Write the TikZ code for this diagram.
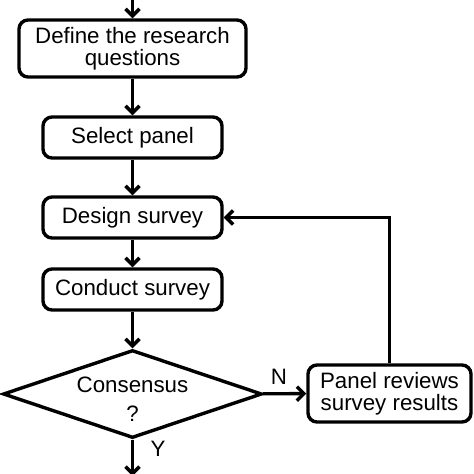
\documentclass[tikz,border=0pt]{standalone}
\usepackage{fontspec}
\setmainfont{Liberation Sans}
\usetikzlibrary{shapes.geometric,arrows.meta}
\begin{document}
\begin{tikzpicture}[x=1pt,y=-1pt,
  every node/.style={font=\fontsize{22.3}{22.5}\selectfont},
  procbox/.style={draw, line width=3.4pt, rounded corners=9pt, align=center, inner sep=0pt},
  decbox/.style={draw, line width=3.4pt, diamond, inner sep=0pt, minimum width=259pt, minimum height=88pt},
  flow/.style={line width=3.4pt, -{Straight Barb[length=7pt,width=14pt,line width=3.4pt]}},
  lbl/.style={inner sep=0pt}]
\useasboundingbox (0,0) rectangle (474,474);
\coordinate (top) at (132.5,-5);
\node[procbox, minimum width=227pt, minimum height=57pt] (def) at (132.5,48.5) {Define the research\\questions};
\node[procbox, minimum width=179pt, minimum height=41pt] (sel) at (132.5,137.5) {Select panel};
\node[procbox, minimum width=179pt, minimum height=41pt] (des) at (132.5,217.5) {Design survey};
\node[procbox, minimum width=179pt, minimum height=41pt] (con) at (132.5,289.5) {Conduct survey};
\node[decbox] (dec) at (132.5,394) {};
\node[lbl] (cons) at (132.5,385) {Consensus};
\node[lbl] (q) at (132.5,414) {?};
\node[procbox, minimum width=163pt, minimum height=57pt] (pan) at (389.5,393.5) {Panel reviews\\survey results};
\node[lbl] (nl) at (279,377) {N};
\node[lbl] (yl) at (158,449) {Y};
\coordinate (bot) at (132.5,476);
\coordinate (corner) at (389.5,217.5);
\draw[flow] (top) -- (def);
\draw[flow] (def) -- (sel);
\draw[flow] (sel) -- (des);
\draw[flow] (des) -- (con);
\draw[flow] (con) -- (dec);
\draw[flow] (dec) -- (pan);
\draw[flow] (dec) -- (bot);
\draw[flow] (pan.north) -- (corner) -- (des.east);
\end{tikzpicture}
\end{document}
